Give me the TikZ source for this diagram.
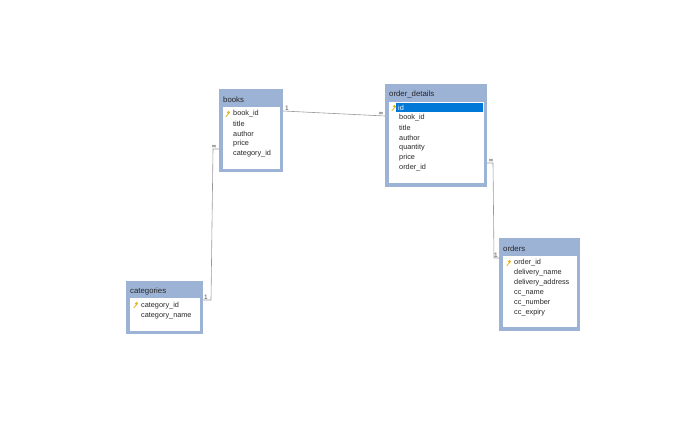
\documentclass[tikz,border=0pt]{standalone}
\usepackage{fontspec}
\setmainfont{Liberation Sans}
\newfontfamily\djv{DejaVu Sans}
\begin{document}
\begin{tikzpicture}[x=1pt,y=-1pt,
  lbl/.style={anchor=west, inner sep=0pt, font=\fontsize{7.3}{8}\selectfont, text=black!85},
  ttl/.style={anchor=west, inner sep=0pt, font=\fontsize{7.8}{9}\selectfont, text=black!85},
  card/.style={inner sep=0pt, font=\fontsize{6.5}{7}\selectfont, text=black!70},
  rel/.style={draw=gray!80, line width=0.6pt}]
\definecolor{frm}{RGB}{157,179,214}
\definecolor{sel}{RGB}{0,120,215}
\definecolor{keyc}{RGB}{230,180,30}
\useasboundingbox (0,0) rectangle (680,433);
\newcommand{\keyicon}[2]{\fill[keyc] (#1+1.5,#2-1.5) circle (1.6);\draw[keyc,line width=0.8pt] (#1+2,#2-1) -- (#1-1.2,#2+2.8);}
% books
\fill[frm] (219,89) rectangle (283,172);
\fill[white] (223,107) rectangle (280,169);
\node[ttl] (bt) at (223,100) {books};
\keyicon{227}{114}
\node[lbl] (b1) at (233,114) {book\_id};
\node[lbl] (b2) at (233,124) {title};
\node[lbl] (b3) at (233,134) {author};
\node[lbl] (b4) at (233,144) {price};
\node[lbl] (b5) at (233,154) {category\_id};
\coordinate (bR) at (283,111);
\coordinate (bL) at (219,149);
% order_details
\fill[frm] (385,84) rectangle (487,187);
\fill[white] (389,102) rectangle (484,183);
\fill[sel] (396,103) rectangle (483,112);
\node[ttl] (ot) at (389,94) {order\_details};
\keyicon{393}{108}
\node[lbl,text=white] (o1) at (398,108) {id};
\node[lbl] (o2) at (399,118) {book\_id};
\node[lbl] (o3) at (399,128) {title};
\node[lbl] (o4) at (399,138) {author};
\node[lbl] (o5) at (399,148) {quantity};
\node[lbl] (o6) at (399,158) {price};
\node[lbl] (o7) at (399,168) {order\_id};
\coordinate (oL) at (385,116);
\coordinate (oR) at (487,163);
% orders
\fill[frm] (499,238) rectangle (580,331);
\fill[white] (503,256) rectangle (577,327);
\node[ttl] (rt) at (503,249) {orders};
\keyicon{508}{263}
\node[lbl] (r1) at (514,263) {order\_id};
\node[lbl] (r2) at (514,273) {delivery\_name};
\node[lbl] (r3) at (514,283) {delivery\_address};
\node[lbl] (r4) at (514,293) {cc\_name};
\node[lbl] (r5) at (514,303) {cc\_number};
\node[lbl] (r6) at (514,313) {cc\_expiry};
\coordinate (rL) at (499,258);
% categories
\fill[frm] (126,281) rectangle (203,334);
\fill[white] (130,298) rectangle (200,331);
\node[ttl] (ct) at (130,291) {categories};
\keyicon{135}{305}
\node[lbl] (c1) at (141,305.5) {category\_id};
\node[lbl] (c2) at (141,315.5) {category\_name};
\coordinate (cR) at (203,300);
% relations
\draw[rel] (bR) -- (oL);
\draw[rel] (bL) -- (213,149) -- (211,300) -- (cR);
\draw[rel] (oR) -- (493,163) -- (494,258) -- (rL);
\node[card] at (287,108) {1};
\node[card] at (381,114) {\djv ∞};
\node[card] at (214,147) {\djv ∞};
\node[card] at (206,297) {1};
\node[card] at (491,161) {\djv ∞};
\node[card] at (496,255) {1};
\end{tikzpicture}
\end{document}
